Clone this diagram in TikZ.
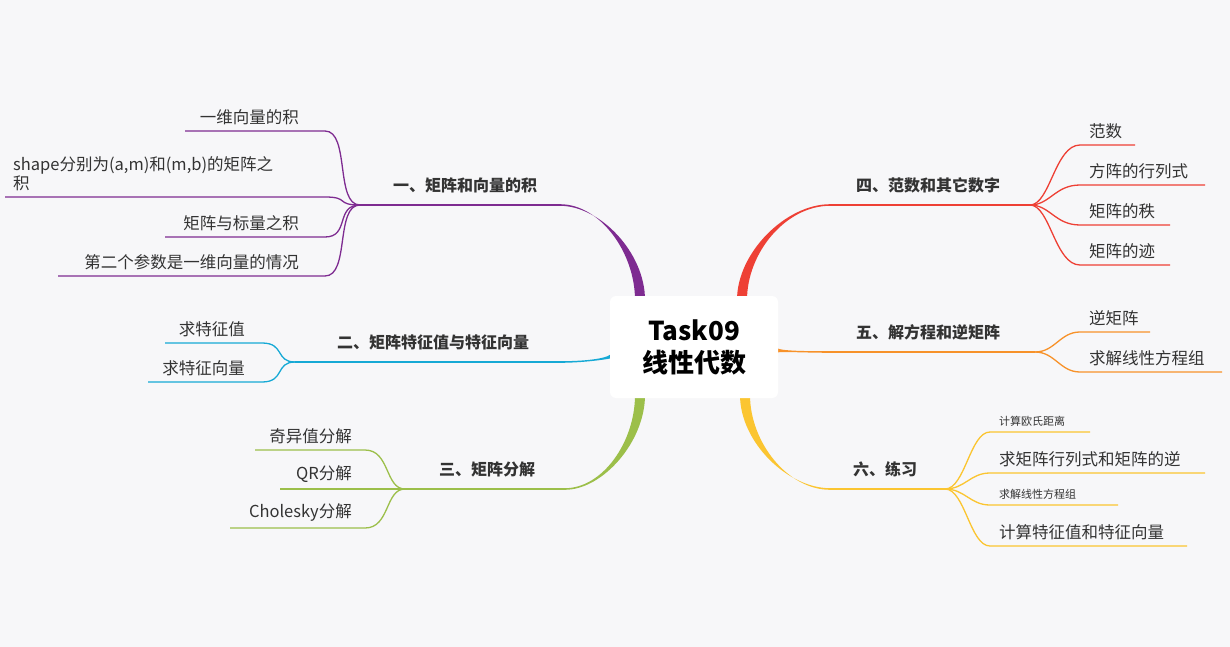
\documentclass[tikz,border=0pt]{standalone}
\usepackage{fontspec}
\setmainfont{Noto Sans CJK SC}
\definecolor{bg}{HTML}{F7F7F9}
\definecolor{txt}{HTML}{333333}
\definecolor{cA}{HTML}{7E2B91}
\definecolor{cB}{HTML}{16A9D5}
\definecolor{cC}{HTML}{9CBF4A}
\definecolor{cD}{HTML}{EE4035}
\definecolor{cE}{HTML}{F7922A}
\definecolor{cF}{HTML}{FBC531}
\newcommand\brch[7]{%
 \fill[#7] ({#1-#5},{#2-#6}) .. controls ({#1-#5},{(#2+#4)/2}) and ({(#1+#3)/2},{#4-0.8}) .. ({#3},{#4-0.8})
  -- ({#3},{#4+0.8}) .. controls ({(#1+#3)/2},{#4+0.8}) and ({#1+#5},{(#2+#4)/2}) .. ({#1+#5},{#2+#6}) -- cycle;}
\begin{document}
\begin{tikzpicture}[x=1pt,y=-1pt,
 leafl/.style={font=\fontsize{16.5}{19}\selectfont,text=txt,anchor=south east,inner sep=1pt},
 leafr/.style={font=\fontsize{16.5}{19}\selectfont,text=txt,anchor=south west,inner sep=1pt},
 small/.style={font=\fontsize{11}{13}\selectfont},
 lab/.style={font=\bfseries\fontsize{16}{19}\selectfont,text=txt,inner sep=1pt},
 lk/.style={line width=1.3pt}]
\fill[bg] (0,0) rectangle (1230,647);
\useasboundingbox (0,0) rectangle (1230,647);
% main branches
\brch{640}{300}{560}{205}{5}{0}{cA}
\draw[cA,lk] (560,205) -- (360,205);
\brch{612}{355}{560}{362}{0}{3}{cB}
\draw[cB,lk] (560,362) -- (295,362);
\brch{640}{395}{565}{489}{5}{0}{cC}
\draw[cC,lk] (565,489) -- (405,489);
\brch{742}{300}{830}{205}{5}{0}{cD}
\draw[cD,lk] (830,205) -- (1030,205);
\brch{776}{350}{830}{352}{0}{3}{cE}
\draw[cE,lk] (830,352) -- (1035,352);
\brch{745}{395}{830}{489}{5}{0}{cF}
\draw[cF,lk] (830,489) -- (945,489);
% labels
\node[lab,anchor=south] (lA) at (465,194) {一、矩阵和向量的积};
\node[lab,anchor=south] (lB) at (433,351) {二、矩阵特征值与特征向量};
\node[lab,anchor=south] (lC) at (487,478) {三、矩阵分解};
\node[lab,anchor=south] (lD) at (928,194) {四、范数和其它数字};
\node[lab,anchor=south] (lE) at (928,341) {五、解方程和逆矩阵};
\node[lab,anchor=south] (lF) at (885,478) {六、练习};
% left leaves
\foreach \y/\l in {131/185,197/5,237/165,276/58}
  \draw[cA,lk] (360,205) .. controls (335,205) and (350,\y) .. (325,\y) -- (\l,\y);
\node[leafl] (a1) at (300,126) {一维向量的积};
\node[leafr,align=left,anchor=south west] (a2) at (12,192) {shape分别为(a,m)和(m,b)的矩阵之\\积};
\node[leafl] (a3) at (300,232) {矩阵与标量之积};
\node[leafl] (a4) at (300,271) {第二个参数是一维向量的情况};
\foreach \y/\l in {343/165,382/148}
  \draw[cB,lk] (295,362) .. controls (275,362) and (285,\y) .. (262,\y) -- (\l,\y);
\node[leafl] (b1) at (246,338) {求特征值};
\node[leafl] (b2) at (246,377) {求特征向量};
\foreach \y/\l in {450/255,489/280,528/230}
  \draw[cC,lk] (405,489) .. controls (385,489) and (390,\y) .. (365,\y) -- (\l,\y);
\node[leafl] (c1) at (353,445) {奇异值分解};
\node[leafl] (c2) at (353,484) {QR分解};
\node[leafl] (c3) at (353,523) {Cholesky分解};
% right leaves
\foreach \y/\r in {145/1135,185/1205,225/1170,265/1170}
  \draw[cD,lk] (1030,205) .. controls (1050,205) and (1055,\y) .. (1080,\y) -- (\r,\y);
\node[leafr] (d1) at (1088,140) {范数};
\node[leafr] (d2) at (1088,180) {方阵的行列式};
\node[leafr] (d3) at (1088,220) {矩阵的秩};
\node[leafr] (d4) at (1088,260) {矩阵的迹};
\foreach \y/\r in {332/1150,372/1222}
  \draw[cE,lk] (1035,352) .. controls (1055,352) and (1060,\y) .. (1080,\y) -- (\r,\y);
\node[leafr] (e1) at (1088,327) {逆矩阵};
\node[leafr] (e2) at (1088,367) {求解线性方程组};
\foreach \y/\r in {432/1090,473/1205,505/1118,546/1187}
  \draw[cF,lk] (945,489) .. controls (965,489) and (970,\y) .. (990,\y) -- (\r,\y);
\node[leafr,small] (f1) at (998,428) {计算欧氏距离};
\node[leafr] (f2) at (998,468) {求矩阵行列式和矩阵的逆};
\node[leafr,small] (f3) at (998,501) {求解线性方程组};
\node[leafr] (f4) at (998,541) {计算特征值和特征向量};
% center
\node[fill=white,rounded corners=6pt,minimum width=168pt,minimum height=102pt,align=center,
  font=\bfseries\fontsize{26}{32}\selectfont,text=black] (c) at (694,347) {Task09\\线性代数};
\end{tikzpicture}
\end{document}
